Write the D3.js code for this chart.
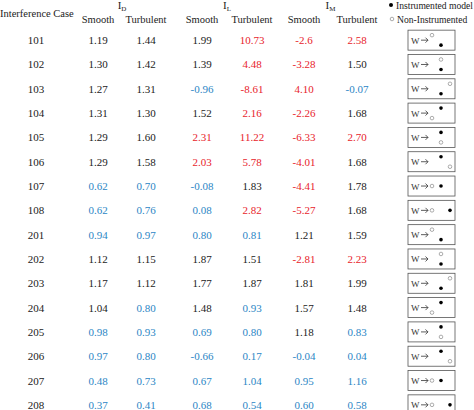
<!DOCTYPE html>
<html><head><meta charset="utf-8">
<script src="https://cdn.jsdelivr.net/npm/d3@7"></script>
<style>body{margin:0;background:#fff}text{font-family:"Liberation Serif","Times New Roman",serif}</style>
</head><body><svg id="c" width="474" height="410"></svg>
<script>
const cases=["101","102","103","104","105","106","107","108","201","202","203","204","205","206","207","208"];
const idSmooth=["1.19","1.30","1.27","1.31","1.29","1.29","0.62","0.62","0.94","1.12","1.17","1.04","0.98","0.97","0.48","0.37"];
const idTurb=["1.44","1.42","1.31","1.30","1.60","1.58","0.70","0.76","0.97","1.15","1.12","0.80","0.93","0.80","0.73","0.41"];
const ilSmooth=["1.99","1.39","-0.96","1.52","2.31","2.03","-0.08","0.08","0.80","1.87","1.77","1.48","0.69","-0.66","0.67","0.68"];
const ilTurb=["10.73","4.48","-8.61","2.16","11.22","5.78","1.83","2.82","0.81","1.51","1.87","0.93","0.80","0.17","1.04","0.54"];
const imSmooth=["-2.6","-3.28","4.10","-2.26","-6.33","-4.01","-4.41","-5.27","1.21","-2.81","1.81","1.57","1.18","-0.04","0.95","0.60"];
const imTurb=["2.58","1.50","-0.07","1.68","2.70","1.68","1.78","1.68","1.59","2.23","1.99","1.48","0.83","0.04","1.16","0.58"];
const idSC="kkkkkkbbbkkkbbbb", idTC="kkkkkkbbbkkbbbbb", ilSC="kkbkrrbbbkkkbbbb", ilTC="rrrrrrkrbkkbbbbb", imSC="rrrrrrrrkrkkkbbb", imTC="rkbkrkkkkrkkbbbb";
const openDot=["nt","mt","ft","nb","mb","fb","nc","nc","nt","mt","ft","nb","mb","fb","nc","nc"];
const fillDot=["mb","mb","mb","mt","mt","mt","mc","fc","mb","mb","mb","mt","mt","mt","mc","fc"];
const subHeads=["Smooth","Turbulent","Smooth","Turbulent","Smooth","Turbulent"];
const groups=[["I","D"],["I","L"],["I","M"]];
const cols=[idSmooth,idTurb,ilSmooth,ilTurb,imSmooth,imTurb];
const colCls=[idSC,idTC,ilSC,ilTC,imSC,imTC];
const colorMap={k:"#222",r:"#e8232b",b:"#2b86c5"};
const svg=d3.select("#c");
const y=d3.scaleBand().domain(cases).range([28,417]);
const xs=[36,98,146,202,252,304,357];
svg.append("text").attr("x",0).attr("y",17).attr("font-size",10.5).attr("fill","#222").text("Interference Case");
groups.forEach((g,i)=>{const t=svg.append("text").attr("x",(xs[1+2*i]+xs[2+2*i])/2).attr("y",9).attr("text-anchor","middle").attr("font-size",11).attr("fill","#222");
 t.append("tspan").text(g[0]);t.append("tspan").attr("font-size",7).attr("dy",2).text(g[1]);});
subHeads.forEach((s,i)=>svg.append("text").attr("x",xs[i+1]).attr("y",23).attr("text-anchor","middle").attr("font-size",10.5).attr("fill","#222").text(s));
svg.append("circle").attr("cx",391).attr("cy",5).attr("r",2).attr("fill","#000");
svg.append("text").attr("x",396).attr("y",9).attr("font-size",9.6).attr("fill","#222").text("Instrumented model");
svg.append("circle").attr("cx",392).attr("cy",19).attr("r",1.8).attr("fill","none").attr("stroke","#888").attr("stroke-width",0.7);
svg.append("text").attr("x",397).attr("y",23).attr("font-size",9.6).attr("fill","#222").text("Non-Instrumented");
cases.forEach((c,r)=>{const cy=y(c)+y.bandwidth()/2;
 svg.append("text").attr("x",xs[0]).attr("y",cy+4).attr("text-anchor","middle").attr("font-size",11).attr("fill","#222").text(c);
 cols.forEach((col,j)=>svg.append("text").attr("x",xs[j+1]).attr("y",cy+4).attr("text-anchor","middle").attr("font-size",11).attr("fill",colorMap[colCls[j][r]]).text(col[r]));
 const bx=408,bw=47,bh=20,by=cy-bh/2;
 svg.append("rect").attr("x",bx).attr("y",by).attr("width",bw).attr("height",bh).attr("fill","#fff").attr("stroke","#555").attr("stroke-width",0.8);
 svg.append("text").attr("x",bx+3).attr("y",cy+3.5).attr("font-size",9).attr("font-family","Liberation Sans").attr("fill","#333").text("W");
 svg.append("path").attr("d",`M${bx+13},${cy}h7M${bx+17.5},${cy-2.5}l2.5,2.5l-2.5,2.5`).attr("fill","none").attr("stroke","#333").attr("stroke-width",0.8);
 const px={n:432,m:441,f:450},py={t:by+5,b:by+15,c:cy};
 svg.append("circle").attr("cx",px[openDot[r][0]]).attr("cy",py[openDot[r][1]]).attr("r",1.8).attr("fill","none").attr("stroke","#888").attr("stroke-width",0.7);
 svg.append("circle").attr("cx",px[fillDot[r][0]]).attr("cy",py[fillDot[r][1]]).attr("r",1.8).attr("fill","#000");
});
</script></body></html>
